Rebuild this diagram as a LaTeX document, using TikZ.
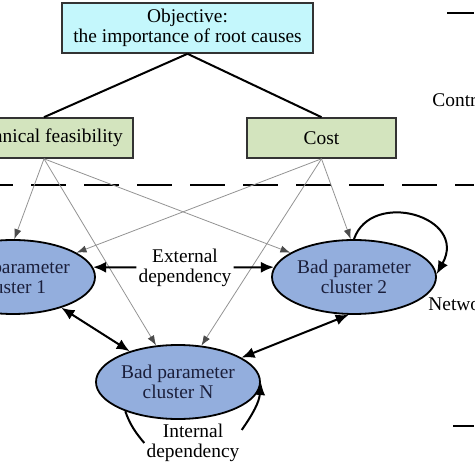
\documentclass[tikz,border=0pt]{standalone}
\usepackage{fontspec}
\setmainfont{Liberation Serif}
\usetikzlibrary{arrows.meta,shapes.geometric}

\definecolor{objfill}{HTML}{C4F7FC}
\definecolor{critfill}{HTML}{D3E4BE}
\definecolor{clusterfill}{HTML}{93AEDD}
\definecolor{clustertext}{HTML}{1B1F3B}

\begin{document}
\begin{tikzpicture}[x=0.5pt,y=0.5pt,
    font=\fontsize{9.7}{10}\selectfont,
    objbox/.style={draw=black!80, line width=0.8pt, fill=objfill, align=center,
        minimum width=125.5pt, minimum height=25pt, inner sep=0pt},
    critbox/.style={draw=black!80, line width=0.8pt, fill=critfill,
        minimum height=20pt, inner sep=0pt},
    cluster/.style={ellipse, draw=black, line width=0.9pt, fill=clusterfill,
        text=clustertext, align=center, minimum width=82pt, minimum height=37pt, inner sep=0pt},
    feed/.style={draw=gray!85, line width=0.4pt, -{Latex[length=5pt,width=3.6pt,black!70]}},
    dep/.style={line width=1pt, -{Latex[length=6.5pt,width=5.5pt]}},
    depboth/.style={line width=1pt, {Latex[length=6.5pt,width=5.5pt]}-{Latex[length=6.5pt,width=5.5pt]}},
    lbl/.style={align=center, inner sep=1pt}]

    % Fix the frame
    \useasboundingbox (0,0) rectangle (474,-474);

    % Draw layer separator and brackets
    \draw[line width=1pt, dash pattern=on 17.5pt off 9pt, dash phase=11pt] (0,-185) -- (474,-185);
    \draw[line width=1pt] (447,-13) -- (474,-13);
    \draw[line width=1pt] (453,-426) -- (474,-426);
    \node[anchor=west, inner sep=0pt] (ctrl) at (432,-100) {Control};
    \node[anchor=west, inner sep=0pt] (netw) at (428,-304) {Network};

    % Hierarchy of criteria
    \node[objbox] (obj) at (187.5,-28) {Objective:\\the importance of root causes};
    \node[critbox, minimum width=89pt] (tech) at (44,-138) {Technical feasibility};
    \node[critbox, minimum width=74.5pt] (cost) at (321.5,-138) {Cost};
    \draw[line width=1pt] (obj.south) -- (tech.north);
    \draw[line width=1pt] (obj.south) -- (cost.north);

    % Place clusters
    \node[cluster] (c1) at (13,-277) {Bad parameter\\cluster 1};
    \node[cluster] (c2) at (354,-277) {Bad parameter\\cluster 2};
    \node[cluster] (cN) at (178,-382) {Bad parameter\\cluster N};
    \node[lbl] (ext) at (185,-267.5) {External\\dependency};
    \node[lbl] (int) at (193,-443) {Internal\\dependency};

    % Criteria feed every cluster
    \foreach \from/\to in {tech/c1.88, tech/c2, tech/cN, cost/c1, cost/c2.95, cost/cN}
        \draw[feed] (\from.south) -- (\to);

    % Dependencies between clusters
    \draw[dep] (ext.west) -- (c1.7);
    \draw[dep] (ext.east) -- (c2.173);
    \draw[depboth] (c1) -- (cN);
    \draw[depboth] (c2.262) -- (cN.21);
    \draw[dep] (c2.north) .. controls +(17,50) and +(32,58) .. (c2.2);
    \draw[line width=1pt] (cN.209) to[out=-70,in=130] (int.west);
    \draw[dep] (int.15) to[out=55,in=-95] (cN.east);

\end{tikzpicture}
\end{document}
